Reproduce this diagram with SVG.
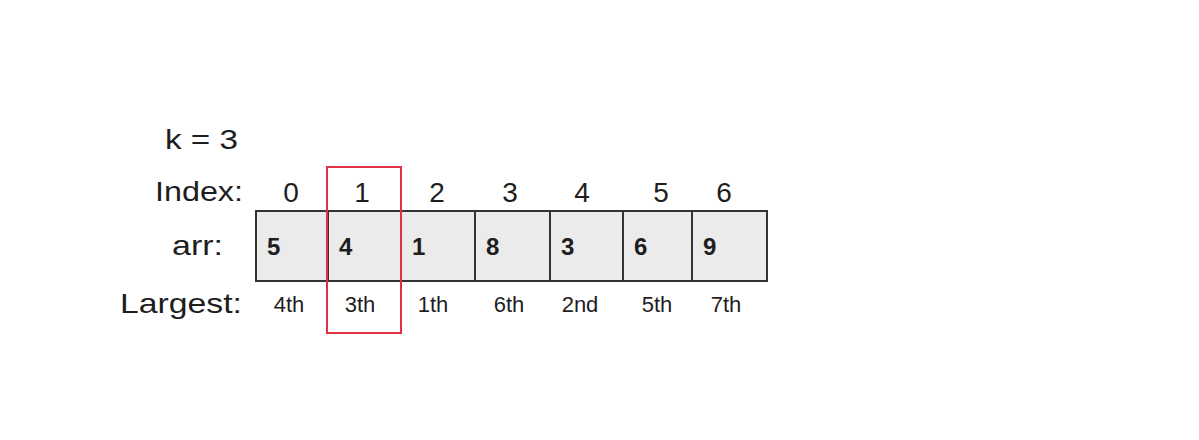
<svg xmlns="http://www.w3.org/2000/svg" width="1199" height="440" viewBox="0 0 1199 440">
<style>
.hand{font-family:"Liberation Sans","DejaVu Sans",sans-serif;fill:#1e1e1e}
.lbl{font-size:28px}
.idx{font-size:28px;text-anchor:middle}
.rank{font-size:22px;text-anchor:middle}
.cell rect{fill:#ebebeb;stroke:#333333;stroke-width:2}
.cell text{font-family:"Liberation Sans",Arial,sans-serif;font-weight:bold;font-size:24px;fill:#1e1e1e}
</style>
<rect width="1199" height="440" fill="#ffffff"/>
<g id="labels">
<text class="hand lbl" x="165" y="149" textLength="73" lengthAdjust="spacingAndGlyphs">k = 3</text>
<text class="hand lbl" x="155" y="201" textLength="88" lengthAdjust="spacingAndGlyphs">Index:</text>
<text class="hand lbl" x="172" y="255" textLength="51" lengthAdjust="spacingAndGlyphs">arr:</text>
<text class="hand lbl" x="120" y="313" textLength="122" lengthAdjust="spacingAndGlyphs">Largest:</text>
</g>
<g id="indices">
<text class="hand idx" x="291" y="202">0</text>
<text class="hand idx" x="362" y="202">1</text>
<text class="hand idx" x="437" y="202">2</text>
<text class="hand idx" x="510" y="202">3</text>
<text class="hand idx" x="582" y="202">4</text>
<text class="hand idx" x="661" y="202">5</text>
<text class="hand idx" x="724" y="202">6</text>
</g>
<g id="cell0" class="cell"><rect x="256" y="211" width="72" height="70"/><text x="267" y="255">5</text></g>
<g id="cell1" class="cell"><rect x="328" y="211" width="73" height="70"/><text x="339" y="255">4</text></g>
<g id="cell2" class="cell"><rect x="401" y="211" width="74" height="70"/><text x="412" y="255">1</text></g>
<g id="cell3" class="cell"><rect x="475" y="211" width="75" height="70"/><text x="486" y="255">8</text></g>
<g id="cell4" class="cell"><rect x="550" y="211" width="73" height="70"/><text x="561" y="255">3</text></g>
<g id="cell5" class="cell"><rect x="623" y="211" width="69" height="70"/><text x="634" y="255">6</text></g>
<g id="cell6" class="cell"><rect x="692" y="211" width="75" height="70"/><text x="703" y="255">9</text></g>
<g id="ranks">
<text class="hand rank" x="289" y="312">4th</text>
<text class="hand rank" x="360" y="312">3th</text>
<text class="hand rank" x="433" y="312">1th</text>
<text class="hand rank" x="509" y="312">6th</text>
<text class="hand rank" x="580" y="312">2nd</text>
<text class="hand rank" x="657" y="312">5th</text>
<text class="hand rank" x="726" y="312">7th</text>
</g>
<g id="highlight"><rect x="327" y="167" width="74" height="166" fill="none" stroke="#e03144" stroke-width="2"/></g>
</svg>
